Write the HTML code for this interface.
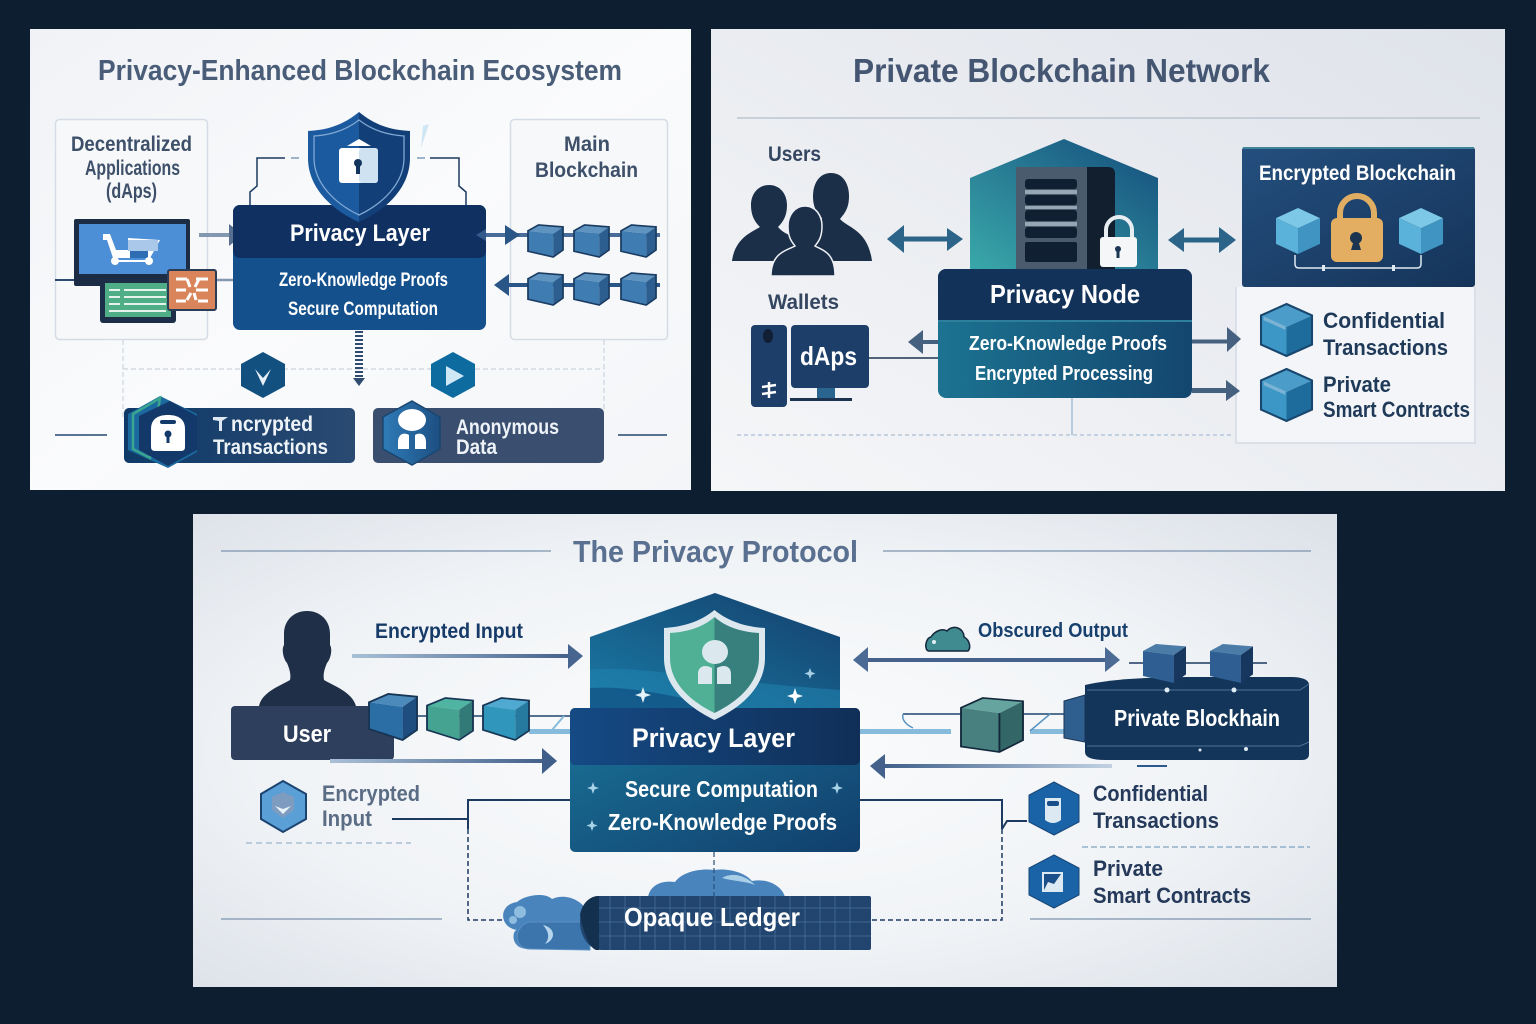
<!DOCTYPE html>
<html><head><meta charset="utf-8"><title>Privacy diagrams</title>
<style>
html,body{margin:0;padding:0;background:#0c1e2f}
svg{display:block}
text{font-family:"Liberation Sans",sans-serif;font-weight:700}
</style></head>
<body>
<svg xmlns="http://www.w3.org/2000/svg" width="1536" height="1024" viewBox="0 0 1536 1024">
<defs>
<linearGradient id="p1" x1="0" y1="0" x2="1" y2="1"><stop offset="0" stop-color="#f0f2f6"/><stop offset=".5" stop-color="#fafbfc"/><stop offset="1" stop-color="#f3f5f8"/></linearGradient>
<linearGradient id="p2" x1="1" y1="0" x2="0" y2="1"><stop offset="0" stop-color="#dfe3ea"/><stop offset="1" stop-color="#f5f6f8"/></linearGradient>
<radialGradient id="p3" cx=".48" cy=".5" r=".7"><stop offset="0" stop-color="#fbfcfd"/><stop offset=".6" stop-color="#f0f3f6"/><stop offset="1" stop-color="#dde2e9"/></radialGradient>
<linearGradient id="sh1" x1="0" x2="1"><stop offset=".5" stop-color="#1c5a9f"/><stop offset=".5" stop-color="#123f78"/></linearGradient>
<linearGradient id="house2" x1="0" y1="1" x2="1" y2="0"><stop offset="0" stop-color="#3aa9aa"/><stop offset="1" stop-color="#144c7c"/></linearGradient>
<linearGradient id="house3" x1="0" y1="1" x2="1" y2="0"><stop offset="0" stop-color="#1a7ba6"/><stop offset="1" stop-color="#143f6c"/></linearGradient>
<linearGradient id="low2" x1="0" x2="1"><stop offset="0" stop-color="#1c7391"/><stop offset="1" stop-color="#14466f"/></linearGradient>
<linearGradient id="low3" x1="0" y1="0" x2="1" y2="1"><stop offset="0" stop-color="#1a7499"/><stop offset="1" stop-color="#113f6c"/></linearGradient>
<linearGradient id="top3" x1="0" x2="1"><stop offset="0" stop-color="#154a84"/><stop offset="1" stop-color="#102f58"/></linearGradient>
<linearGradient id="enc" x1="0" y1="0" x2="1" y2="1"><stop offset="0" stop-color="#244f7e"/><stop offset="1" stop-color="#15345a"/></linearGradient>
<linearGradient id="bt1" x1="0" x2="1"><stop offset="0" stop-color="#0f3a68"/><stop offset="1" stop-color="#2a4a72"/></linearGradient>
<linearGradient id="hx" x1="0" x2="1"><stop offset="0" stop-color="#2f7bb8"/><stop offset="1" stop-color="#1d4f82"/></linearGradient>
<linearGradient id="ar1" x1="0" x2="1"><stop offset="0" stop-color="#a9c0d6"/><stop offset="1" stop-color="#44618c"/></linearGradient>
<linearGradient id="ar2" x1="0" x2="1"><stop offset="0" stop-color="#3f5f8a"/><stop offset="1" stop-color="#c2d2e2"/></linearGradient>

<g id="cb"><polygon points="0,18 30,0 100,6 72,28" fill="#5f93c0"/><polygon points="0,18 72,28 72,100 0,82" fill="#3f7cb2"/><polygon points="72,28 100,6 100,78 72,100" fill="#2c5e90"/><polygon points="0,18 30,0 100,6 100,78 72,100 0,82" fill="none" stroke="#1b3c62" stroke-width="5"/></g>
<g id="cd"><polygon points="0,18 30,0 100,6 72,28" fill="#4b7ca8"/><polygon points="0,18 72,28 72,100 0,82" fill="#2f5f92"/><polygon points="72,28 100,6 100,78 72,100" fill="#18375f"/></g>
<g id="cg"><polygon points="0,18 40,0 100,6 70,28" fill="#4fb4a2"/><polygon points="0,18 70,28 70,100 0,76" fill="#45a392"/><polygon points="70,28 100,6 100,78 70,100" fill="#327a78"/><polygon points="0,18 40,0 100,6 100,78 70,100 0,76" fill="none" stroke="#173554" stroke-width="4"/></g>
<g id="ct"><polygon points="0,18 40,0 100,6 70,28" fill="#4fa9d0"/><polygon points="0,18 70,28 70,100 0,76" fill="#3096bc"/><polygon points="70,28 100,6 100,78 70,100" fill="#267a9f"/><polygon points="0,18 40,0 100,6 100,78 70,100 0,76" fill="none" stroke="#173554" stroke-width="4"/></g>
<g id="cm"><polygon points="0,18 40,0 100,6 70,28" fill="#4b8abb"/><polygon points="0,18 70,28 70,100 0,76" fill="#2b6ea6"/><polygon points="70,28 100,6 100,78 70,100" fill="#1e4e80"/><polygon points="0,18 40,0 100,6 100,78 70,100 0,76" fill="none" stroke="#173554" stroke-width="4"/></g>
<g id="cq"><polygon points="0,18 35,0 100,6 62,28" fill="#66a49f"/><polygon points="0,18 62,28 62,100 0,90" fill="#47807f"/><polygon points="62,28 100,6 100,78 62,100" fill="#336666"/><polygon points="0,18 35,0 100,6 100,78 62,100 0,90" fill="none" stroke="#13283c" stroke-width="3"/><line x1="62" y1="28" x2="62" y2="100" stroke="#13283c" stroke-width="3"/></g>
<g id="il"><polygon points="50,0 100,22 50,44 0,22" fill="#7cc8e6"/><polygon points="0,22 50,44 50,100 0,78" fill="#5ab2da"/><polygon points="50,44 100,22 100,78 50,100" fill="#3f94c2"/></g>
<g id="im"><polygon points="50,0 100,22 50,44 0,22" fill="#4b9cc8"/><polygon points="0,22 50,44 50,100 0,78" fill="#3c96c6"/><polygon points="50,44 100,22 100,78 50,100" fill="#1e6c9c"/><polygon points="50,0 100,22 100,78 50,100 0,78 0,22" fill="none" stroke="#18466e" stroke-width="4"/><polygon points="5,24 48,43 48,50 5,31" fill="#7ab3d4"/></g>
</defs>

<rect width="1536" height="1024" fill="#0c1e2f"/>

<!-- PANEL 1 -->
<rect x="30" y="29" width="661" height="461" fill="url(#p1)"/>
<text x="98" y="80" font-size="29" fill="#4a5d78" textLength="524" lengthAdjust="spacingAndGlyphs">Privacy-Enhanced Blockchain Ecosystem</text>
<rect x="55.500" y="119.500" width="152" height="220" rx="4" fill="#f6f8fa" stroke="#d6dce5" stroke-width="1.500"/>
<rect x="510.500" y="119.500" width="157" height="220" rx="4" fill="#f6f8fa" stroke="#d6dce5" stroke-width="1.500"/>
<g fill="#3e5069" font-size="21">
<text x="71" y="151" textLength="121" lengthAdjust="spacingAndGlyphs">Decentralized</text>
<text x="85" y="175" textLength="95" lengthAdjust="spacingAndGlyphs">Applications</text>
<text x="106" y="198" textLength="51" lengthAdjust="spacingAndGlyphs">(dAps)</text>
<text x="564" y="151" textLength="46" lengthAdjust="spacingAndGlyphs">Main</text>
<text x="535" y="177" textLength="103" lengthAdjust="spacingAndGlyphs">Blockchain</text>
</g>
<!-- dashed guides -->
<g fill="none" stroke="#cdd5df" stroke-width="1.200" stroke-dasharray="5 3">
<path d="M123 340V420M123 369H604M604 340V410"/>
</g>
<!-- top brackets -->
<g fill="none" stroke="#1b3a60" stroke-width="1.500">
<path d="M250 205V192L257 186V158H285"/><path d="M466 205V192L459 186V158H430"/>
</g>
<path d="M291 158H299M417 158H425" stroke="#7f9cbc" stroke-width="1.500"/>
<path d="M423 126L429 124L421 148Z" fill="#cfe6f4"/>
<!-- arrows left -->
<rect x="199" y="233" width="32" height="4" fill="#8497b0"/>
<polygon points="229,224 243,235 229,246" fill="#596f92"/>
<path d="M55 280H74" stroke="#2a4a72" stroke-width="2"/>
<path d="M217 280H244" stroke="#8497b0" stroke-width="2.500"/>
<path d="M240 272L250 280L240 288" fill="none" stroke="#31527f" stroke-width="2"/>
<!-- main box -->
<rect x="233" y="205" width="253" height="125" rx="7" fill="#14508c"/>
<path d="M233 212a7 7 0 0 1 7-7h239a7 7 0 0 1 7 7v39a7 7 0 0 1-7 7H240a7 7 0 0 1-7-7Z" fill="#0f3061"/>
<!-- shield -->
<path d="M359 112C342 126 326 130 308 131V158C308 188 332 210 359 222C386 210 410 188 410 158V131C392 130 376 126 359 112Z" fill="url(#sh1)"/>
<path d="M359 120C345 131 330 135 314 136V158C314 184 336 204 359 215C382 204 404 184 404 158V136C388 135 373 131 359 120Z" fill="none" stroke="#7fa8d4" stroke-width="1.300"/>
<path d="M359 139L371 146H347Z" fill="#fff"/>
<rect x="339" y="148" width="39" height="35" rx="3" fill="#fff"/>
<rect x="359" y="148" width="19" height="35" rx="3" fill="#cfe2f2"/>
<circle cx="358" cy="163" r="4" fill="#14365e"/><rect x="356" y="163" width="4" height="11" fill="#14365e"/>
<g fill="#fff">
<text x="290" y="241" font-size="24" textLength="140" lengthAdjust="spacingAndGlyphs">Privacy Layer</text>
<text x="279" y="286" font-size="19" textLength="169" lengthAdjust="spacingAndGlyphs">Zero-Knowledge Proofs</text>
<text x="288" y="315" font-size="19" textLength="150" lengthAdjust="spacingAndGlyphs">Secure Computation</text>
</g>
<!-- monitor -->
<rect x="74" y="219" width="116" height="67" rx="2" fill="#1c2c44"/>
<rect x="79" y="224" width="107" height="50" fill="#4d8fd6"/>
<path d="M103 234H110L116 250H128V238L160 240L154 251L150 258H113L107 240H103Z" fill="#fff"/>
<rect x="128" y="240" width="30" height="11" fill="#a9c8ea"/>
<rect x="130" y="251" width="18" height="7" fill="#2e6db4"/>
<circle cx="115" cy="261" r="4" fill="#fff"/><circle cx="149" cy="261" r="4" fill="#fff"/>
<path d="M115 261H149" stroke="#fff" stroke-width="2"/>
<!-- tablet -->
<rect x="100" y="279" width="76" height="44" rx="3" fill="#1d2f48"/>
<rect x="105" y="283" width="66" height="34" fill="#4fae86"/>
<g stroke="#e6f3ec" stroke-width="2">
<path d="M109 290H120M124 290H166M109 297H120M124 297H166M109 304H120M124 304H166M109 311H166"/>
</g>
<rect x="168" y="270" width="48" height="40" rx="2" fill="#d9845a" stroke="#2a3d57" stroke-width="2"/>
<g stroke="#fff" stroke-width="3" fill="none">
<path d="M176 279H187M196 279H208M176 290H186M196 290H208M176 301H186M198 301H208M187 279L190 287M199 279L195 287M187 300L191 293M196 300L194 293"/>
</g>
<!-- right arrows and cubes -->
<path d="M482 235H660" stroke="#4a6c98" stroke-width="4"/>
<polygon points="505,225 520,235 505,245" fill="#2a5587"/>
<polygon points="476,235 486,229 486,241" fill="#33588a"/>
<use href="#cb" transform="translate(528,225) scale(.35,.32)"/>
<use href="#cb" transform="translate(574,225) scale(.35,.32)"/>
<use href="#cb" transform="translate(621,225) scale(.35,.32)"/>
<path d="M505 285H660" stroke="#2a5587" stroke-width="4"/>
<polygon points="494,285 509,274 509,296" fill="#2a5587"/>
<use href="#cb" transform="translate(528,273) scale(.35,.32)"/>
<use href="#cb" transform="translate(574,273) scale(.35,.32)"/>
<use href="#cb" transform="translate(621,273) scale(.35,.32)"/>
<!-- dotted down -->
<path d="M359 331V378" stroke="#2f4b70" stroke-width="8" stroke-dasharray="2 2"/>
<polygon points="353,378 365,378 359,386" fill="#2f4b70"/>
<!-- small hexes -->
<polygon points="263,352 285,364 285,386 263,398 241,386 241,364" fill="#11507f"/>
<path d="M255 369L263 386L271 369L263 378Z" fill="#e7f0f7"/>
<polygon points="453,352 475,364 475,386 453,398 431,386 431,364" fill="#0e6ba0"/>
<path d="M446 366L464 376L446 386Z" fill="#cfe8f6"/>
<!-- bottom boxes -->
<rect x="124" y="408" width="231" height="55" rx="5" fill="url(#bt1)"/>
<rect x="373" y="408" width="231" height="55" rx="5" fill="#3a4e70"/>
<polygon points="160,396 197,414 197,452 168,468 128,450 128,414" fill="#1b6a9f"/>
<polygon points="160,398 133,414 133,449 150,458" fill="none" stroke="#3aa68f" stroke-width="2.500"/>
<polygon points="170,401 197,416 197,450 168,466 139,450 139,416" fill="#13396a"/>
<path d="M151 429C151 419 158 415 168 415C178 415 185 419 185 429V447Q185 451 181 451H155Q151 451 151 447Z" fill="#fff"/>
<rect x="160" y="420" width="16" height="4" rx="2" fill="#13396a"/>
<circle cx="168" cy="434" r="3.500" fill="#13396a"/><rect x="166.500" y="434" width="3" height="9" fill="#13396a"/>
<polygon points="412,401 440,417 440,449 412,465 383,449 383,417" fill="url(#hx)" stroke="#1a4670" stroke-width="1.500"/>
<ellipse cx="412" cy="420" rx="14" ry="11" fill="#fff"/>
<path d="M398 449V442C398 434 404 432 409 435V449ZM415 449V435C420 432 426 434 426 442V449Z" fill="#fff"/>
<g fill="#eef3f8" font-size="21">
<path d="M213 417H228L222 421V431H219V421L213 420Z" fill="#dfe8f0"/>
<text x="231" y="431" textLength="82" lengthAdjust="spacingAndGlyphs">ncrypted</text>
<text x="213" y="454" textLength="115" lengthAdjust="spacingAndGlyphs">Transactions</text>
<text x="456" y="434" textLength="103" lengthAdjust="spacingAndGlyphs">Anonymous</text>
<text x="456" y="454" textLength="41" lengthAdjust="spacingAndGlyphs">Data</text>
</g>
<path d="M55 435H107M618 435H667" stroke="#24476f" stroke-width="1.500"/>

<!-- PANEL 2 -->
<rect x="711" y="29" width="794" height="462" fill="url(#p2)"/>
<text x="853" y="82" font-size="33" fill="#445672" textLength="417" lengthAdjust="spacingAndGlyphs">Private Blockchain Network</text>
<path d="M737 118H1480" stroke="#bcc5d0" stroke-width="1.500"/>
<g fill="#344660" font-size="21">
<text x="768" y="161" textLength="53" lengthAdjust="spacingAndGlyphs">Users</text>
<text x="768" y="309" textLength="71" lengthAdjust="spacingAndGlyphs">Wallets</text>
</g>
<!-- users -->
<g fill="#1c2f49">
<path d="M831 173C843 173 849 184 849 196C849 208 845 213 840 219C848 228 868 230 872 261H800V228C816 226 822 222 822 218C817 213 813 208 813 196C813 184 819 173 831 173Z"/>
<path d="M769 185C780 185 787 194 787 205C787 216 783 222 778 227C784 234 790 235 797 238V261H732C735 238 752 232 760 227C755 222 751 216 751 205C751 194 758 185 769 185Z"/>
<path d="M805 206C816 206 822 216 822 226C822 238 818 242 815 246C822 250 835 252 835 276H771C771 252 788 250 795 246C792 242 788 238 788 226C788 216 794 206 805 206Z" stroke="#eef1f5" stroke-width="1.500"/>
</g>
<!-- house + server -->
<polygon points="1064,139 1158,178 1158,272 970,272 970,178" fill="url(#house2)"/>
<rect x="1016" y="167" width="72" height="104" fill="#4a5b6d"/>
<path d="M1087 167H1108Q1115 167 1115 174V271H1087Z" fill="#121f2e"/>
<g fill="#101f31">
<rect x="1025" y="179" width="52" height="10" rx="3"/><rect x="1025" y="195" width="52" height="10" rx="3"/><rect x="1025" y="210" width="52" height="11" rx="3"/><rect x="1025" y="227" width="52" height="11" rx="3"/><rect x="1025" y="242" width="52" height="20" rx="2"/>
</g>
<g fill="#97a6b4"><rect x="1025" y="190" width="52" height="4"/><rect x="1025" y="206" width="52" height="3"/><rect x="1025" y="222" width="52" height="4"/></g>
<path d="M1106 238V230a13 13 0 0 1 26 0V238" fill="none" stroke="#e8edf2" stroke-width="4"/>
<rect x="1100" y="237" width="37" height="30" rx="3" fill="#f4f6f8"/>
<circle cx="1118" cy="249" r="3" fill="#1a3654"/><rect x="1116.500" y="249" width="3" height="9" fill="#1a3654"/>
<!-- node box -->
<rect x="938" y="269" width="254" height="129" rx="8" fill="url(#low2)"/>
<path d="M938 277a8 8 0 0 1 8-8h238a8 8 0 0 1 8 8v45H938Z" fill="#133259"/>
<rect x="938" y="320" width="254" height="2" fill="#2d7f9b"/>
<g fill="#fff">
<text x="990" y="303" font-size="26" textLength="150" lengthAdjust="spacingAndGlyphs">Privacy Node</text>
<text x="969" y="350" font-size="20" textLength="198" lengthAdjust="spacingAndGlyphs">Zero-Knowledge Proofs</text>
<text x="975" y="380" font-size="20" textLength="178" lengthAdjust="spacingAndGlyphs">Encrypted Processing</text>
</g>
<!-- double arrows -->
<g fill="#2b6488">
<rect x="900" y="236.500" width="50" height="5"/><polygon points="887,239 904,225 904,253"/><polygon points="947,228 963,239 947,251"/>
<rect x="1180" y="237.500" width="44" height="5"/><polygon points="1168,240 1184,228 1184,252"/><polygon points="1219,227 1236,240 1219,253"/>
</g>
<!-- encrypted blockchain -->
<path d="M1236 287V443H1475V287" fill="#f3f5f8" stroke="#d5dae2" stroke-width="1.500"/>
<rect x="1242" y="147" width="233" height="140" rx="3" fill="url(#enc)"/>
<path d="M1243 148H1474" stroke="#3f8499" stroke-width="2"/>
<text x="1259" y="180" font-size="21" fill="#fff" textLength="197" lengthAdjust="spacingAndGlyphs">Encrypted Blockchain</text>
<use href="#il" transform="translate(1276,208) scale(.44,.46)"/>
<use href="#il" transform="translate(1399,208) scale(.44,.46)"/>
<path d="M1340 220V213a17 17 0 0 1 34 0V220" fill="none" stroke="#e0ae62" stroke-width="6"/>
<rect x="1331" y="218" width="52" height="44" rx="6" fill="#e3ae62"/>
<circle cx="1356" cy="238" r="6" fill="#1b3450"/><polygon points="1354,240 1358,240 1361,250 1351,250" fill="#1b3450"/>
<path d="M1295 255V264Q1295 268 1299 268H1417Q1421 268 1421 264V255" fill="none" stroke="#dfe9f2" stroke-width="1.500"/>
<rect x="1322" y="265" width="3" height="6" fill="#dfe9f2"/><rect x="1392" y="265" width="3" height="6" fill="#dfe9f2"/>
<use href="#im" transform="translate(1261,304) scale(.51,.52)"/>
<use href="#im" transform="translate(1261,369) scale(.51,.52)"/>
<g fill="#1f3a58" font-size="22">
<text x="1323" y="328" textLength="122" lengthAdjust="spacingAndGlyphs">Confidential</text>
<text x="1323" y="355" textLength="125" lengthAdjust="spacingAndGlyphs">Transactions</text>
<text x="1323" y="392" textLength="68" lengthAdjust="spacingAndGlyphs">Private</text>
<text x="1323" y="417" textLength="147" lengthAdjust="spacingAndGlyphs">Smart Contracts</text>
</g>
<!-- side arrows -->
<g fill="#46617f">
<rect x="1192" y="339.500" width="36" height="4"/><polygon points="1227,327 1241,339 1227,352"/>
<rect x="1192" y="388" width="36" height="5"/><polygon points="1226,380 1240,391 1226,401"/>
<rect x="922" y="340" width="16" height="4"/><polygon points="908,342 923,330 923,354"/>
</g>
<path d="M869 358H938" stroke="#1c3350" stroke-width="1.500"/>
<!-- wallet + monitor -->
<rect x="751" y="325" width="36" height="82" rx="4" fill="#1d3e68"/>
<ellipse cx="768" cy="336" rx="5" ry="7" fill="#101f33"/>
<path d="M769 382V398M762 387L776 385M762 394L776 392" stroke="#fff" stroke-width="2.500"/>
<rect x="791" y="325" width="78" height="63" rx="4" fill="#1d3e68"/>
<rect x="817" y="388" width="18" height="11" fill="#2a6590"/>
<rect x="790" y="398" width="62" height="3" fill="#1c3350"/>
<text x="800" y="365" font-size="26" fill="#fff" textLength="57" lengthAdjust="spacingAndGlyphs">dAps</text>
<path d="M737 435H1232" stroke="#a9bed4" stroke-width="1.200" stroke-dasharray="4 3"/>
<path d="M1072 398V435" stroke="#93b0cb" stroke-width="1.200"/>

<!-- PANEL 3 -->
<rect x="193" y="514" width="1144" height="473" fill="url(#p3)"/>
<path d="M221 551H551M883 551H1311" stroke="#8da2b8" stroke-width="1.500"/>
<text x="573" y="562" font-size="31" fill="#5a7090" textLength="285" lengthAdjust="spacingAndGlyphs">The Privacy Protocol</text>
<!-- user -->
<path d="M307 611C320 611 330 620 330 634V645C333 650 330 660 327 663C324 670 323 675 324 680C334 686 352 692 356 706H259C262 692 280 686 290 680C291 675 290 670 287 663C284 660 281 650 284 645V634C284 620 294 611 307 611Z" fill="#1f2f48"/>
<rect x="231" y="706" width="163" height="54" rx="4" fill="#2e3f5d"/>
<text x="283" y="742" font-size="24" fill="#fff" textLength="48" lengthAdjust="spacingAndGlyphs">User</text>
<!-- connector behind -->
<rect x="529" y="729" width="42" height="5" fill="#87bbdc"/>
<path d="M417 716H570" stroke="#1d4670" stroke-width="1.500"/>
<path d="M552 730L564 716" stroke="#87bbdc" stroke-width="2"/>
<use href="#cm" transform="translate(369,694) scale(.48,.46)"/>
<use href="#cg" transform="translate(427,698) scale(.46,.42)"/>
<use href="#ct" transform="translate(483,698) scale(.46,.42)"/>
<!-- input arrows -->
<rect x="352" y="654" width="217" height="4" fill="url(#ar1)"/>
<polygon points="568,644 583,656 568,669" fill="#48658f"/>
<rect x="330" y="759" width="213" height="4" fill="url(#ar1)"/>
<polygon points="542,748 557,761 542,774" fill="#3f5f8a"/>
<text x="375" y="638" font-size="21" fill="#173b68" textLength="148" lengthAdjust="spacingAndGlyphs">Encrypted Input</text>
<!-- house -->
<polygon points="715,593 840,637 840,712 590,712 590,637" fill="url(#house3)"/>
<path d="M590 670C640 665 700 680 840 690V712H590Z" fill="#2184ae" opacity=".55"/>
<path d="M590 688C640 685 680 700 760 712H590Z" fill="#0f4f80" opacity=".7"/>
<path d="M643 687l2 6 6 2-6 2-2 6-2-6-6-2 6-2Z" fill="#e3f1f8"/>
<path d="M795 688l2 6 6 2-6 2-2 6-2-6-6-2 6-2Z" fill="#fff"/>
<path d="M810 668l1.500 4 4 1.500-4 1.500-1.500 4-1.500-4-4-1.500 4-1.500Z" fill="#a9cfe4"/>
<!-- layer box -->
<rect x="570" y="708" width="290" height="144" rx="5" fill="url(#low3)"/>
<path d="M570 713a5 5 0 0 1 5-5h280a5 5 0 0 1 5 5v47a5 5 0 0 1-5 5H575a5 5 0 0 1-5-5Z" fill="url(#top3)"/>
<!-- shield -->
<path d="M714.500 610C700 622 682 627 664 628V658C664 688 690 708 714.500 720C740 708 765 688 765 658V628C747 627 729 622 714.500 610Z" fill="#dde8ee"/>
<path d="M714.500 617C702 628 686 632 670 633V658C670 684 692 702 714.500 713Z" fill="#4fb095"/>
<path d="M714.500 617C727 628 743 632 759 633V658C759 684 737 702 714.500 713Z" fill="#37807e"/>
<ellipse cx="715" cy="652" rx="13" ry="12" fill="#dbe9ee"/>
<path d="M698 684V674C698 666 705 664 712 668V684ZM717 684V668C724 664 731 666 731 674V684Z" fill="#dbe9ee"/>
<g fill="#fff">
<text x="632" y="747" font-size="27" textLength="163" lengthAdjust="spacingAndGlyphs">Privacy Layer</text>
<text x="625" y="797" font-size="23" textLength="193" lengthAdjust="spacingAndGlyphs">Secure Computation</text>
<text x="608" y="830" font-size="23" textLength="229" lengthAdjust="spacingAndGlyphs">Zero-Knowledge Proofs</text>
</g>
<g fill="#a9d3e6">
<path d="M593 782l1.500 4.500 4.500 1.500-4.500 1.500-1.500 4.500-1.500-4.500-4.500-1.500 4.500-1.500Z"/>
<path d="M837 782l1.500 4.500 4.500 1.500-4.500 1.500-1.500 4.500-1.500-4.500-4.500-1.500 4.500-1.500Z"/>
<path d="M592 820l1.500 4 4 1.500-4 1.500-1.500 4-1.500-4-4-1.500 4-1.500Z"/>
</g>
<!-- encrypted input legend -->
<polygon points="283,781 306,794 306,819 283,832 261,819 261,794" fill="#5a9fd6" stroke="#1c4470" stroke-width="2"/>
<path d="M272 797L283 792L294 797V810L283 818L272 810Z" fill="#7d9cc0"/>
<path d="M275 806L283 814L291 806L283 809Z" fill="#e8f2f8"/>
<g fill="#5b6c85" font-size="22">
<text x="322" y="801" textLength="98" lengthAdjust="spacingAndGlyphs">Encrypted</text>
<text x="322" y="826" textLength="50" lengthAdjust="spacingAndGlyphs">Input</text>
</g>
<path d="M392 819H468" stroke="#1d3a60" stroke-width="2"/>
<path d="M246 843H411" stroke="#9db5cc" stroke-width="1.300" stroke-dasharray="6 4"/>
<path d="M570 800H468V829" fill="none" stroke="#1d3a60" stroke-width="2"/>
<path d="M468 829V920H505" fill="none" stroke="#1d3a60" stroke-width="1.500" stroke-dasharray="5 3"/>
<path d="M860 800H1002V829" fill="none" stroke="#1d3a60" stroke-width="2"/>
<path d="M1002 829L1007 821H1027" fill="none" stroke="#1d3a60" stroke-width="2"/>
<path d="M1002 829V920H870" fill="none" stroke="#1d3a60" stroke-width="1.500" stroke-dasharray="5 3"/>
<!-- clouds + ledger -->
<path d="M648 897C650 885 662 880 675 882C682 872 700 868 714 870C730 868 745 873 752 881C768 878 782 886 785 897Z" fill="#4a84bc"/>
<path d="M722 878C732 872 745 875 755 885C745 881 732 881 722 878Z" fill="#a9cfe8"/>
<path d="M714 852V897" stroke="#2a4f78" stroke-width="1.200" stroke-dasharray="5 3"/>
<path d="M528 949C510 949 512 930 517 930C500 928 497 905 517 902C525 895 545 892 552 899C565 893 580 900 585 908L590 950Z" fill="#4a84bc"/>
<path d="M530 949C512 949 514 925 530 922H590V950Z" fill="#3c74ac" stroke="#5a90c4" stroke-width="1"/>
<circle cx="520" cy="912" r="6" fill="#8fbde0"/><circle cx="513" cy="920" r="4" fill="#8fbde0"/>
<path d="M543 925C556 928 556 940 545 944C550 938 549 932 543 925Z" fill="#b5d6ec"/>
<path d="M598 896H869Q871 896 871 898V948Q871 950 869 950H602C588 950 580 935 580 922C580 908 588 896 598 896Z" fill="#21456f"/>
<path d="M580 915C582 903 590 896 599 896V950H596C590 948 584 935 580 915Z" fill="#14304f"/>
<g stroke="#3f6792" stroke-width="1" fill="none">
<path d="M599 908H871M599 922H871M599 936H871M610 896V950M625 896V950M640 896V950M655 896V950M670 896V950M685 896V950M700 896V950M715 896V950M730 896V950M745 896V950M760 896V950M775 896V950M790 896V950M805 896V950M820 896V950M835 896V950M850 896V950"/>
</g>
<text x="624" y="926" font-size="26" fill="#fff" textLength="176" lengthAdjust="spacingAndGlyphs">Opaque Ledger</text>
<!-- output -->
<path d="M929 651C924 651 925 638 931 637C935 631 942 628 947 631C953 624 964 628 964 637C970 640 971 648 968 651Z" fill="#3f8b90" stroke="#14263c" stroke-width="1.500"/>
<circle cx="934" cy="642" r="2" fill="#dff0f2"/>
<text x="978" y="637" font-size="20" fill="#17406e" textLength="150" lengthAdjust="spacingAndGlyphs">Obscured Output</text>
<rect x="865" y="658" width="242" height="4" fill="#46628c"/>
<polygon points="853,660 868,647 868,672" fill="#4b6a94"/>
<polygon points="1105,647 1120,660 1105,672" fill="#4b6a94"/>
<!-- right mid -->
<rect x="860" y="729" width="91" height="5" fill="#87bbdc"/>
<rect x="1030" y="729" width="36" height="5" fill="#87bbdc"/>
<path d="M903 714H961M1023 714H1065" stroke="#1d4670" stroke-width="1.500"/>
<path d="M903 714Q901 722 913 728M1030 731L1050 714" fill="none" stroke="#5a94c2" stroke-width="1.500"/>
<use href="#cq" transform="translate(961,698) scale(.62,.54)"/>
<polygon points="1064,701 1085,695 1085,742 1064,738" fill="#2f5f8e" stroke="#183558" stroke-width="1"/>
<rect x="882" y="764" width="230" height="4" fill="url(#ar2)"/>
<rect x="1137" y="765" width="30" height="2" fill="#2c5a8c"/>
<polygon points="870,766 885,754 885,779" fill="#44618c"/>
<path d="M1129 663H1267" stroke="#1d3a60" stroke-width="1.500"/>
<!-- private blockchain -->
<path d="M1085 685C1110 679 1150 677 1195 677H1290C1303 677 1309 680 1309 685V754Q1309 760 1302 760H1105Q1085 760 1085 752Z" fill="#14355a"/>
<path d="M1087 690H1300L1309 684M1087 746H1300L1309 742" fill="none" stroke="#4b7194" stroke-width="1"/>
<g fill="#dfeaf2"><circle cx="1167" cy="690" r="2.500"/><circle cx="1234" cy="690" r="2.500"/><circle cx="1246" cy="749" r="2"/><circle cx="1200" cy="750" r="1.500"/></g>
<use href="#cd" transform="translate(1143,644) scale(.43,.39)"/>
<use href="#cd" transform="translate(1210,644) scale(.43,.39)"/>
<text x="1114" y="726" font-size="23" fill="#fff" textLength="166" lengthAdjust="spacingAndGlyphs">Private Blockhain</text>
<!-- legend hexes -->
<polygon points="1054,782 1079,795 1079,822 1054,835 1029,822 1029,795" fill="#1a63a6" stroke="#174677" stroke-width="1"/>
<path d="M1045 798H1061V820Q1053 826 1045 820Z" fill="#dce9f3"/>
<rect x="1047" y="801" width="12" height="5" rx="2" fill="#1a4e88"/>
<polygon points="1054,855 1079,868 1079,895 1054,908 1029,895 1029,868" fill="#1a63a6" stroke="#174677" stroke-width="1"/>
<rect x="1042" y="872" width="21" height="20" fill="#dce9f3"/>
<path d="M1044 874H1061L1054 884L1048 882L1044 890Z" fill="#1a4e88"/>
<g fill="#25395a" font-size="22">
<text x="1093" y="801" textLength="115" lengthAdjust="spacingAndGlyphs">Confidential</text>
<text x="1093" y="828" textLength="126" lengthAdjust="spacingAndGlyphs">Transactions</text>
<text x="1093" y="876" textLength="70" lengthAdjust="spacingAndGlyphs">Private</text>
<text x="1093" y="903" textLength="158" lengthAdjust="spacingAndGlyphs">Smart Contracts</text>
</g>
<path d="M1082 847H1310" stroke="#7fa3c0" stroke-width="1.300" stroke-dasharray="6 3"/>
<path d="M221 919H442M1030 919H1311" stroke="#8da2b8" stroke-width="1.500"/>
</svg>
</body></html>
